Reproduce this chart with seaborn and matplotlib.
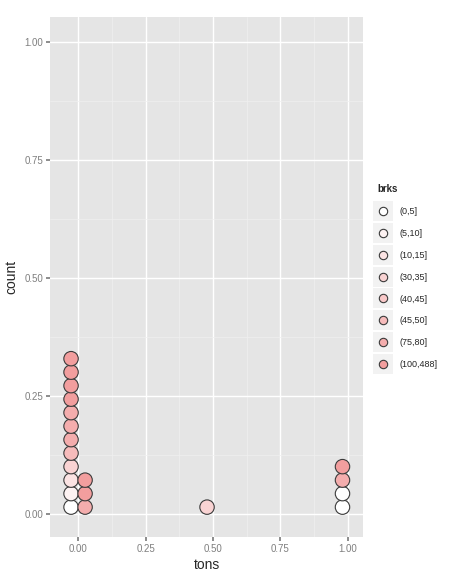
import matplotlib
matplotlib.use("Agg")
import matplotlib.pyplot as plt
from matplotlib.patches import Rectangle
import numpy as np
import pandas as pd
import seaborn as sns

# ---------------------------------------------------------------------------
# Data (one row per dot)
# ---------------------------------------------------------------------------
brk_levels = ["(0,5]", "(5,10]", "(10,15]", "(30,35]", "(40,45]",
              "(45,50]", "(75,80]", "(100,488]"]
brk_colors = ["#FFFFFF", "#FDF2F2", "#FBE3E3", "#F9D3D3", "#F8C8C8",
              "#F6BBBB", "#F4ADAD", "#F29E9E"]

tons = ([-0.026] * 12 + [0.026] * 3 + [0.478] + [0.98] * 4)
brks = (["(0,5]", "(5,10]", "(10,15]", "(30,35]", "(45,50]",
         "(75,80]", "(75,80]", "(75,80]",
         "(100,488]", "(100,488]", "(100,488]", "(100,488]"]
        + ["(75,80]", "(100,488]", "(100,488]"]
        + ["(30,35]"]
        + ["(0,5]", "(0,5]", "(75,80]", "(100,488]"])

x_ticks = [0.00, 0.25, 0.50, 0.75, 1.00]
y_ticks = [0.00, 0.25, 0.50, 0.75, 1.00]

STACK = 0.0286   # vertical spacing of stacked dots (count units)

df = pd.DataFrame({"tons": tons, "brks": pd.Categorical(brks, brk_levels, ordered=True)})
df = df.sort_values(["tons", "brks"], kind="stable")
df["count"] = (df.groupby("tons").cumcount() + 0.5) * STACK

# ---------------------------------------------------------------------------
# Plot
# ---------------------------------------------------------------------------
sns.set_theme(style="darkgrid", rc={
    "axes.facecolor": "#E5E5E5",
    "grid.color": "white",
    "axes.edgecolor": "#E5E5E5",
})
plt.rcParams["font.family"] = ["Liberation Sans", "DejaVu Sans"]

fig = plt.figure(figsize=(4.74, 5.78), dpi=100)
ax = fig.add_axes([50 / 474, 41 / 578, 313 / 474, 520 / 578])

palette = dict(zip(brk_levels, brk_colors))
sns.scatterplot(data=df, x="tons", y="count", hue="brks", hue_order=brk_levels,
                palette=palette, s=108, edgecolor="#3A3A3A", linewidth=0.8,
                ax=ax, zorder=3, legend=True)

ax.set_xlim(-0.104, 1.056)
ax.set_ylim(-0.049, 1.053)
ax.set_xticks(x_ticks)
ax.set_yticks(y_ticks)
ax.set_xticklabels([f"{v:.2f}" for v in x_ticks])
ax.set_yticklabels([f"{v:.2f}" for v in y_ticks])
ax.set_xticks([0.125, 0.375, 0.625, 0.875], minor=True)
ax.set_yticks([0.125, 0.375, 0.625, 0.875], minor=True)
ax.grid(which="major", color="white", linewidth=1.0)
ax.grid(which="minor", color="#F0F0F0", linewidth=0.5)
ax.tick_params(which="major", length=3, color="#7F7F7F", labelsize=7,
               labelcolor="#7F7F7F", left=True, bottom=True, pad=2)
ax.tick_params(which="minor", length=0)
for s in ax.spines.values():
    s.set_visible(False)
ax.set_xlabel("tons", fontsize=10, labelpad=3)
ax.set_ylabel("count", fontsize=10, labelpad=4)

leg = ax.legend(title="brks", loc="upper left", bbox_to_anchor=(1.035, 0.685),
                frameon=False, fontsize=6.5, title_fontsize=7,
                labelspacing=1.42, handletextpad=1.2, handlelength=1.2,
                borderaxespad=0, markerscale=0.58)
leg.get_title().set_fontweight("bold")
leg._legend_box.align = "left"
leg.set_zorder(10)

# grey key backgrounds, as in ggplot legends
fig.canvas.draw()
for h in leg.legend_handles:
    bb = h.get_window_extent()
    cx, cy = (bb.x0 + bb.x1) / 2, (bb.y0 + bb.y1) / 2
    half = 10
    ax.add_patch(Rectangle((cx - half, cy - half), 2 * half, 2 * half,
                           transform=None, facecolor="#F2F2F2",
                           edgecolor="none", zorder=1, clip_on=False))

fig.savefig("out.png", dpi=100)
